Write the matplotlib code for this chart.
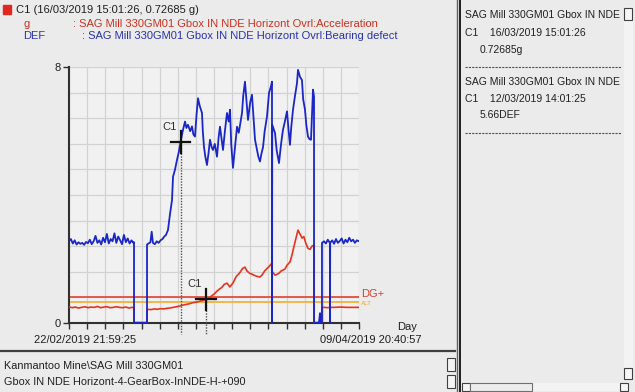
import matplotlib
matplotlib.use("Agg")
import matplotlib.pyplot as plt
from matplotlib.patches import Rectangle

plt.rcParams['font.family'] = ['Liberation Sans', 'DejaVu Sans']

# time axis in days since 22/02/2019 21:59:25
x_end = 45.9455
c1_def_day, c1_def_val = 17.668, 5.66   # 12/03/2019 14:01:25
c1_g_day, c1_g_val = 21.71, 0.72685     # 16/03/2019 15:01:26
dg_level = 0.81
alt_level = 0.64

def_days = [0.0, 0.3, 0.6, 0.9, 1.2, 1.5, 1.8, 2.1, 2.4, 2.7, 3.0, 3.3, 3.6, 3.9, 4.2,
            4.5, 4.8, 5.1, 5.4, 5.7, 6.0, 6.3, 6.6, 6.9, 7.2, 7.5, 7.8, 8.1, 8.4, 8.7,
            9.0, 9.3, 9.6, 9.9, 10.2, 10.3, 10.3, 12.36, 12.36,
            12.6, 12.9, 13.1, 13.3, 13.6, 13.9, 14.2, 14.5, 14.8, 15.1, 15.37,
            15.68, 16.0, 16.32, 16.48, 16.8, 17.11, 17.4, 17.668, 18.06, 18.38, 18.6,
            18.85, 19.2, 19.49, 19.7, 19.96, 20.2, 20.44, 20.7, 21.07, 21.2, 21.39,
            21.6, 21.86, 22.1, 22.34, 22.6, 22.81, 23.1, 23.45, 23.7, 23.92, 24.2,
            24.4, 24.7, 25.03, 25.3, 25.51, 25.7, 25.98, 26.3, 26.62, 26.9, 27.1,
            27.41, 27.6, 27.88, 28.1, 28.36, 28.7, 28.99, 29.2, 29.47, 29.8, 30.0,
            30.26, 30.5, 30.74, 31.0, 31.37, 31.69, 32.0, 32.16, 32.17, 32.2,
            32.64, 32.9, 33.27, 33.6, 33.9, 34.2, 34.54, 34.8, 35.01, 35.2, 35.49,
            35.8, 36.12, 36.28, 36.6, 36.91, 37.1, 37.39, 37.6, 37.86, 38.1, 38.34,
            38.5, 38.66, 38.82, 38.82, 39.6, 39.77, 39.85, 40.08, 40.08,
            40.4, 40.7, 41.0, 41.33, 41.35, 41.38, 41.7, 42.0, 42.3, 42.6, 42.9,
            43.2, 43.5, 43.8, 44.1, 44.4, 44.7, 45.0, 45.3, 45.6, 45.95]
def_vals = [2.55, 2.62, 2.48, 2.58, 2.45, 2.52, 2.47, 2.50, 2.44, 2.53, 2.49, 2.60, 2.46, 2.55, 2.72,
            2.50, 2.58, 2.45, 2.66, 2.52, 2.78, 2.48, 2.62, 2.55, 2.80, 2.50, 2.70, 2.58, 2.46, 2.75,
            2.52, 2.64, 2.48, 2.58, 2.50, 2.52, 0.0, 0.0, 2.45,
            2.48, 2.52, 2.85, 2.50, 2.46, 2.55, 2.50, 2.58, 2.62, 2.70, 2.75,
            2.90, 3.40, 3.84, 4.57, 4.80, 5.10, 5.35, 5.66, 6.04, 6.30, 6.10,
            6.20, 6.00, 6.15, 5.90, 5.83, 6.50, 7.03, 6.80, 6.57, 6.00, 5.50,
            5.20, 4.94, 5.30, 5.73, 5.50, 5.41, 5.60, 5.20, 5.80, 6.14, 5.70,
            5.41, 6.00, 6.57, 6.30, 6.67, 5.60, 4.85, 5.50, 6.14, 5.95, 6.20,
            6.57, 7.10, 7.55, 7.00, 6.35, 6.90, 7.14, 6.50, 5.73, 5.40, 5.20,
            5.05, 5.30, 5.50, 6.00, 6.46, 7.20, 7.40, 7.55, 0.0, 6.20,
            5.94, 5.40, 5.00, 5.60, 6.04, 6.30, 6.62, 6.00, 5.57, 6.10, 6.67,
            7.10, 7.50, 7.92, 7.70, 7.60, 7.00, 6.67, 6.20, 5.83, 5.75, 5.73,
            6.50, 7.30, 7.08, 0.0, 0.0, 0.30, 0.0, 0.0, 2.50,
            2.55, 2.48, 2.60, 2.50, 0.0, 2.50, 2.58, 2.47, 2.62, 2.50, 2.56,
            2.64, 2.48, 2.60, 2.52, 2.66, 2.55, 2.60, 2.50, 2.58, 2.55]

g_days = [0.0, 0.5, 1.0, 1.5, 2.0, 2.5, 3.0, 3.5, 4.0, 4.5, 5.0, 5.5, 6.0, 6.5, 7.0, 7.5,
          8.0, 8.5, 9.0, 9.5, 10.0, 10.3, 10.3, 12.36, 12.36,
          13.0, 13.5, 14.0, 14.5, 15.0, 15.5, 16.0, 16.5, 17.0, 17.5, 18.0, 18.5, 19.0,
          19.5, 20.0, 20.5, 21.0, 21.71, 22.2, 22.6, 23.0, 23.4, 23.8, 24.2, 24.6, 25.03,
          25.5, 26.0, 26.5, 27.0, 27.5, 27.88, 28.2, 28.6, 29.0, 29.4, 29.8, 30.26, 30.6,
          31.0, 31.4, 31.8, 32.16, 32.17, 32.2, 32.64, 33.0, 33.27, 33.6, 33.9, 34.2,
          34.54, 35.01, 35.3, 35.6, 35.9, 36.28, 36.6, 36.91, 37.2, 37.5, 37.86, 38.2,
          38.5, 38.82, 38.82, 40.08, 40.08, 40.5, 41.0, 41.33, 41.35, 41.38, 42.0, 43.0,
          44.0, 45.0, 45.95]
g_vals = [0.50, 0.47, 0.49, 0.46, 0.48, 0.50, 0.47, 0.49, 0.48, 0.51, 0.47, 0.49, 0.50, 0.47, 0.48, 0.50,
          0.48, 0.47, 0.49, 0.46, 0.48, 0.47, 0.0, 0.0, 0.42,
          0.41, 0.43, 0.42, 0.44, 0.43, 0.45, 0.46, 0.48, 0.50, 0.52, 0.55, 0.57, 0.59,
          0.62, 0.64, 0.66, 0.69, 0.727, 0.78, 0.84, 0.90, 0.98, 1.05, 1.10, 1.20, 1.24,
          1.12, 1.25, 1.45, 1.55, 1.70, 1.74, 1.62, 1.55, 1.52, 1.48, 1.45, 1.43, 1.50,
          1.62, 1.70, 1.78, 1.87, 0.0, 1.60, 1.49, 1.52, 1.55, 1.62, 1.65, 1.68,
          1.80, 1.90, 2.10, 2.35, 2.60, 2.90, 2.78, 2.65, 2.70, 2.50, 2.33, 2.30,
          2.40, 2.43, 0.0, 0.0, 0.48, 0.48, 0.47, 0.48, 0.0, 0.48, 0.48, 0.49,
          0.48, 0.48, 0.48]

BG = '#ebebeb'
FS = 8
fig = plt.figure(figsize=(6.35, 3.92), dpi=100)
fig.patch.set_facecolor(BG)

# pixel overlay for the window furniture
ov = fig.add_axes([0, 0, 1, 1], zorder=0)
ov.set_xlim(0, 635)
ov.set_ylim(392, 0)
ov.axis('off')

ov.add_patch(Rectangle((3, 5), 8, 9, color='#e0281e'))
ov.text(16, 10, 'C1 (16/03/2019 15:01:26, 0.72685 g)', fontsize=FS, va='center', color='#202020')
ov.text(24, 23.5, 'g', fontsize=FS, va='center', color='#d0301e')
ov.text(73, 23.5, ': SAG Mill 330GM01 Gbox IN NDE Horizont Ovrl:Acceleration', fontsize=FS,
        va='center', color='#d0301e')
ov.text(23, 36, 'DEF', fontsize=FS, va='center', color='#2a32b0')
ov.text(82, 36, ': SAG Mill 330GM01 Gbox IN NDE Horizont Ovrl:Bearing defect', fontsize=FS,
        va='center', color='#2a32b0')

ov.text(85, 340, '22/02/2019 21:59:25', fontsize=FS, ha='center', va='center', color='#202020')
ov.text(371, 340, '09/04/2019 20:40:57', fontsize=FS, ha='center', va='center', color='#202020')
ov.text(407, 327, 'Day', fontsize=FS, ha='center', va='center', color='#202020')

ov.plot([0, 455], [351, 351], color='#404040', lw=1.6)
ov.plot([457, 457], [0, 392], color='#606060', lw=1.0)
ov.plot([459.5, 459.5], [0, 392], color='#202020', lw=1.4)
ov.text(4, 366, 'Kanmantoo Mine\\SAG Mill 330GM01', fontsize=7.8, va='center', color='#202020')
ov.text(4, 382, 'Gbox IN NDE Horizont-4-GearBox-InNDE-H-+090', fontsize=7.8, va='center', color='#202020')
for yb in (358, 375):
    ov.add_patch(Rectangle((447, yb), 8, 13, facecolor='#f4f4f4', edgecolor='#404040', lw=0.8))

ov.text(465, 15, 'SAG Mill 330GM01 Gbox IN NDE', fontsize=7.5, va='center', color='#202020')
ov.text(465, 33, 'C1    16/03/2019 15:01:26', fontsize=7.5, va='center', color='#202020')
ov.text(480, 50, '0.72685g', fontsize=7.5, va='center', color='#202020')
ov.plot([465, 621], [67, 67], color='#505050', lw=0.8, ls=(0, (2, 1)))
ov.text(465, 82, 'SAG Mill 330GM01 Gbox IN NDE', fontsize=7.5, va='center', color='#202020')
ov.text(465, 99, 'C1    12/03/2019 14:01:25', fontsize=7.5, va='center', color='#202020')
ov.text(480, 115, '5.66DEF', fontsize=7.5, va='center', color='#202020')
ov.plot([465, 621], [133, 133], color='#505050', lw=0.8, ls=(0, (2, 1)))

ov.add_patch(Rectangle((624, 20), 9, 350, facecolor='#f3f3f3', edgecolor='none'))
ov.add_patch(Rectangle((624, 8), 8, 12, facecolor='#f6f6f6', edgecolor='#404040', lw=0.8))
ov.add_patch(Rectangle((624, 368), 8, 11, facecolor='#f6f6f6', edgecolor='#404040', lw=0.8))
ov.add_patch(Rectangle((462, 383), 166, 8, facecolor='#f3f3f3', edgecolor='none'))
ov.add_patch(Rectangle((462, 383), 8, 8, facecolor='#f6f6f6', edgecolor='#404040', lw=0.8))
ov.add_patch(Rectangle((470, 383), 62, 8, facecolor='#ececec', edgecolor='#707070', lw=0.8))
ov.add_patch(Rectangle((620, 383), 8, 8, facecolor='#f6f6f6', edgecolor='#404040', lw=0.8))

# main trend plot
ax = fig.add_axes([69 / 635, 1 - 322.7 / 392, 290 / 635, 255.4 / 392], zorder=2)
ax.set_facecolor('#f1f1f1')
ax.set_xlim(0, x_end)
ax.set_ylim(0, 8)

xt = [x_end * i / 16 for i in range(17)]
ax.set_xticks(xt)
ax.set_xticklabels([])
ax.set_yticks([0, 8])
ax.set_yticks([0.8 * i for i in range(1, 10)], minor=True)
ax.tick_params(axis='x', length=4, width=1, color='#303030', direction='out')
ax.tick_params(axis='y', which='major', length=4, width=1, color='#303030', labelsize=FS,
               labelcolor='#202020', pad=2)
ax.tick_params(axis='y', which='minor', length=0)
ax.grid(True, which='both', color='#d2d2d2', lw=0.9)
ax.set_axisbelow(True)
for s in ('top', 'right'):
    ax.spines[s].set_visible(False)
for s in ('left', 'bottom'):
    ax.spines[s].set_color('#303030')
    ax.spines[s].set_linewidth(1.5)

ax.axhline(dg_level, color='#e05040', lw=1.3, zorder=2)
ax.axhline(alt_level, color='#f2b43c', lw=1.3, zorder=2)
ax.text(1.008, dg_level + 0.08, 'DG+', transform=ax.get_yaxis_transform(), fontsize=FS,
        color='#d04030', va='center', ha='left')
ax.text(1.008, alt_level - 0.05, 'ALT', transform=ax.get_yaxis_transform(), fontsize=4.5,
        color='#e8a830', va='center', ha='left')

ax.plot(g_days, g_vals, color='#e8341e', lw=1.2, zorder=3)
ax.plot(def_days, def_vals, color='#1a26c8', lw=1.3, zorder=4)

# cursors
for cx, cy in ((c1_def_day, c1_def_val), (c1_g_day, c1_g_val)):
    ax.plot([cx, cx], [cy, -0.35], color='#505050', lw=1.0, ls=(0, (1, 1)), clip_on=False, zorder=5)
    ax.plot([cx - 1.58, cx + 1.58], [cy, cy], color='#111111', lw=1.6, zorder=6)
    ax.plot([cx, cx], [cy - 0.34, cy + 0.34], color='#111111', lw=1.6, zorder=6, clip_on=False)
    ax.annotate('C1', xy=(cx, cy), xytext=(-11, 15), textcoords='offset pixels', fontsize=FS,
                ha='center', va='center', color='#303030', zorder=6)

fig.savefig('out.png', dpi=100, facecolor=BG)
